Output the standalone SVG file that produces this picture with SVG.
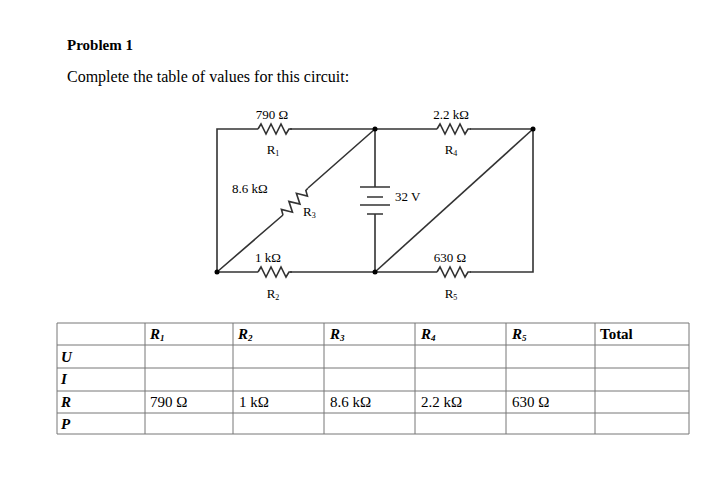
<svg xmlns="http://www.w3.org/2000/svg" width="723" height="500" viewBox="0 0 723 500">
<style>
text{font-family:"Liberation Serif",serif;fill:#000}
.w{stroke:#333;stroke-width:1.6;fill:none}
.lbl{font-size:13px}
.t{stroke:#777;stroke-width:1;fill:none}
.h{font-size:15px;font-weight:bold;font-style:italic}
.c{font-size:15px}
</style>
<rect width="723" height="500" fill="#fff"/>
<text x="67" y="50" style="font-size:15px;font-weight:bold">Problem 1</text>
<text x="67" y="82" style="font-size:16px">Complete the table of values for this circuit:</text>
<g id="connectors">
<path class="w" d="M258,129H217V272H258M290,129H437M470,129H533V272H470M437,272H290"/>
<path class="w" d="M375,129V187M375,214V272"/>
<path class="w" d="M217,272L283,215M308,188L375,129"/>
<path class="w" d="M375,272L533,129"/>
</g>
<g id="R1"><path class="w" d="M258,129l3,-5l5,10l5,-10l5,10l5,-10l5,10l3,-5h3"/><text class="lbl" x="272" y="119" text-anchor="middle">790 Ω</text><text class="lbl" x="273" y="154" text-anchor="middle">R<tspan font-size="8" dy="2">1</tspan></text></g>
<g id="R4"><path class="w" d="M437,129l3,-5l5,10l5,-10l5,10l5,-10l5,10l3,-5h3"/><text class="lbl" x="451" y="119" text-anchor="middle">2.2 kΩ</text><text class="lbl" x="451" y="154" text-anchor="middle">R<tspan font-size="8" dy="2">4</tspan></text></g>
<g id="R2"><path class="w" d="M258,272l3,-5l5,10l5,-10l5,10l5,-10l5,10l3,-5h3"/><text class="lbl" x="268" y="262" text-anchor="middle">1 kΩ</text><text class="lbl" x="273" y="298" text-anchor="middle">R<tspan font-size="8" dy="2">2</tspan></text></g>
<g id="R5"><path class="w" d="M437,272l3,-5l5,10l5,-10l5,10l5,-10l5,10l3,-5h3"/><text class="lbl" x="450" y="262" text-anchor="middle">630 Ω</text><text class="lbl" x="451" y="298" text-anchor="middle">R<tspan font-size="8" dy="2">5</tspan></text></g>
<g id="R3"><path class="w" transform="translate(283,215) rotate(-47)" d="M0,0l3,-5l5.5,10l5.5,-10l5.5,10l5.5,-10l5.5,10l3,-5h3"/><text class="lbl" x="232" y="193">8.6 kΩ</text><text class="lbl" x="303" y="216">R<tspan font-size="8" dy="2">3</tspan></text></g>
<g id="battery"><path class="w" d="M360,187h30M367,197h16M360,205h30M367,214h16"/><text class="lbl" x="395" y="201">32 V</text></g>
<g id="nodes" fill="#000"><circle cx="375" cy="129" r="2.5"/><circle cx="533" cy="129" r="2.5"/><circle cx="217" cy="272" r="2.5"/><circle cx="375" cy="272" r="2.5"/></g>
<g id="table">
<path class="t" d="M57,323H689V434H57ZM57,345H689M57,368H689M57,391H689M57,413H689M145,323V434M233,323V434M324,323V434M415,323V434M506,323V434M595,323V434"/>
<text class="h" x="150" y="339">R<tspan font-size="9" dy="2">1</tspan></text>
<text class="h" x="238" y="339">R<tspan font-size="9" dy="2">2</tspan></text>
<text class="h" x="330" y="339">R<tspan font-size="9" dy="2">3</tspan></text>
<text class="h" x="421" y="339">R<tspan font-size="9" dy="2">4</tspan></text>
<text class="h" x="512" y="339">R<tspan font-size="9" dy="2">5</tspan></text>
<text x="600" y="339" style="font-size:15px;font-weight:bold">Total</text>
<text class="h" x="61" y="362">U</text>
<text class="h" x="61" y="384">I</text>
<text class="h" x="61" y="407">R</text>
<text class="h" x="61" y="429">P</text>
<text class="c" x="150" y="407">790 Ω</text>
<text class="c" x="239" y="407">1 kΩ</text>
<text class="c" x="330" y="407">8.6 kΩ</text>
<text class="c" x="421" y="407">2.2 kΩ</text>
<text class="c" x="512" y="407">630 Ω</text>
</g>
</svg>
